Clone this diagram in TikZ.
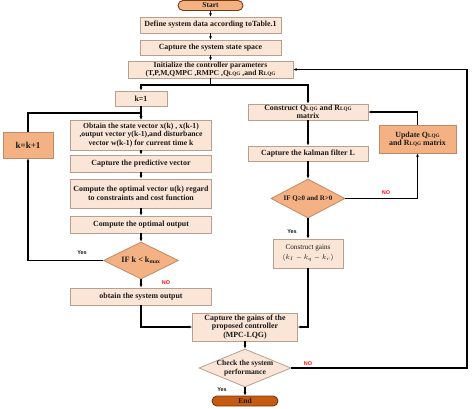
\documentclass[tikz,border=0pt]{standalone}
\usepackage{fontspec}
\setmainfont{Liberation Serif}
\setsansfont{Liberation Sans}
\usetikzlibrary{shapes.geometric,arrows.meta}
\definecolor{lfill}{HTML}{FBE5D6}
\definecolor{ldraw}{HTML}{B8A090}
\definecolor{ofill}{HTML}{F4B183}
\definecolor{odraw}{HTML}{C08A63}
\definecolor{efill}{HTML}{C55A11}
\definecolor{edraw}{HTML}{7A3A10}
\definecolor{txt}{HTML}{1A1A1A}
\definecolor{nored}{HTML}{FF1010}
\newcommand\lqg{{\fontsize{5.2}{5}\selectfont LQG}}
\newcommand\dtext[1]{\makebox[0pt]{\raisebox{-0.3em}[0pt][0pt]{\begin{tabular}{@{}c@{}}#1\end{tabular}}}}
\begin{document}
\begin{tikzpicture}[x=1pt,y=-1pt,
  sz/.style 2 args={minimum width=#1pt,minimum height=#2pt},
  box/.style={draw=ldraw,fill=lfill,line width=0.8pt,inner sep=0pt,align=center,
    text=txt,font=\fontsize{7.9}{8.5}\selectfont\bfseries},
  obox/.style={box,draw=odraw,fill=ofill},
  odiam/.style={diamond,draw=odraw,fill=ofill,line width=0.8pt,inner sep=0pt,text=txt,
    font=\fontsize{7.6}{8.4}\selectfont\bfseries},
  ldiam/.style={odiam,draw=ldraw,fill=lfill},
  term/.style={rounded corners=5pt,line width=0.9pt,inner sep=0pt,text=txt,
    font=\fontsize{7.5}{8}\selectfont\bfseries},
  arr/.style={draw=black,line width=1.1pt,-{Latex[length=3.2pt,width=3pt]}},
  ln/.style={draw=black,line width=1.1pt},
  yes/.style={font=\sffamily\bfseries\fontsize{5.5}{6}\selectfont,text=txt,inner sep=0pt},
  no/.style={font=\sffamily\bfseries\fontsize{5.5}{6}\selectfont,text=nored,inner sep=0pt}]
\useasboundingbox (0,0) rectangle (474,408);
% nodes
\node[term,draw=edraw,fill=ofill,sz={65}{10}] (start) at (210.5,5.5) {Start};
\node[box,sz={141}{16}] (define) at (210.5,25) {Define system data according toTable.1};
\node[box,sz={141}{15}] (css) at (210.5,47.5) {Capture the system state space};
\node[box,sz={165}{17},font=\fontsize{7.6}{8.2}\selectfont\bfseries] (init) at (210.5,69.5) {Initialize the controller parameters\\(T,P,M,QMPC ,RMPC ,Q\lqg{} ,and R\lqg};
\node[box,sz={52}{15}] (k1) at (141,98.5) {k=1};
\node[box,sz={141}{30},font=\fontsize{7.7}{8.4}\selectfont\bfseries] (obtain) at (141,135) {Obtain the state vector x(k) , x(k-1)\\,output vector y(k-1),and disturbance\\vector w(k-1) for current time k};
\node[obox,sz={50}{26},font=\fontsize{9}{10}\selectfont\bfseries] (kk) at (28,145) {k=k+1};
\node[box,sz={141}{17}] (pred) at (141,163.5) {Capture the predictive vector};
\node[box,sz={141}{29}] (cov) at (141,193.5) {Compute the optimal vector u(k) regard\\to constraints and cost function};
\node[box,sz={141}{17}] (coo) at (141,224.5) {Compute the optimal output};
\node[odiam,sz={75}{37},font=\fontsize{8.2}{9}\selectfont\bfseries] (ifk) at (141,260.5) {\dtext{IF k < k\textsubscript{max}}};
\node[box,sz={141}{17}] (sysout) at (141,296.5) {obtain the system output};
\node[box,sz={120}{16}] (cq) at (308,112) {Construct Q\lqg{} and R\lqg\\matrix};
\node[obox,sz={77}{28}] (upd) at (417.5,139) {Update Q\lqg\\and R\lqg{} matrix};
\node[box,sz={120}{15}] (kal) at (308,153.5) {Capture the kalman filter L};
\node[odiam,sz={74}{39},font=\fontsize{7}{8}\selectfont\bfseries] (ifq) at (308,198.5) {\dtext{IF Q≥0 and R>0}};
\node[box,sz={70}{29},font=\fontsize{7.2}{10}\selectfont] (gains) at (308,253.5) {Construct gains\\$(k_I-k_q-k_r)$};
\node[box,sz={105}{28}] (cg) at (245,327) {Capture the gains of the\\proposed controller\\(MPC-LQG)};
\node[ldiam,sz={92}{38}] (chk) at (245,368) {\dtext{Check the system\\performance}};
\node[term,draw=edraw,fill=efill,sz={66}{10}] (end) at (245,401) {End};
% labels
\node[yes] (y1) at (82,253) {Yes};
\node[no] (n1) at (166,283) {NO};
\node[yes] (y2) at (292,232) {Yes};
\node[no] (n2) at (386,193) {NO};
\node[yes] (y3) at (222,390) {Yes};
\node[no] (n3) at (308,364) {NO};
% connectors
\coordinate (split) at (210.5,85);
\coordinate (j1) at (141,113);
\coordinate (rt) at (467,368);
\draw[arr] (start) -- (define);
\draw[arr] (define) -- (css);
\draw[arr] (css) -- (init);
\draw[ln] (init.south) -- (split);
\draw[arr] (split) -| (k1.north);
\draw[arr] (split) -| (cq.north);
\draw[arr] (k1) -- (obtain);
\draw[arr] (kk.north) |- (j1) -- (obtain.north);
\draw[arr] (obtain) -- (pred);
\draw[arr] (pred) -- (cov);
\draw[arr] (cov) -- (coo);
\draw[arr] (coo) -- (ifk);
\draw[arr] (ifk.west) -| (kk.south);
\draw[arr] (ifk) -- (sysout);
\draw[arr] (sysout.south) |- (cg.west);
\draw[arr] (cq) -- (kal);
\draw[arr] (kal) -- (ifq);
\draw[arr] (ifq) -- (gains);
\draw[arr] (ifq.east) -| (upd.south);
\draw[arr] (upd.north) |- (cq.east);
\draw[arr] (gains.south) |- (cg.east);
\draw[arr] (cg) -- (chk);
\draw[arr] (chk) -- (end);
\draw[arr] (chk.east) -- (rt) |- (init.east);
\end{tikzpicture}
\end{document}
